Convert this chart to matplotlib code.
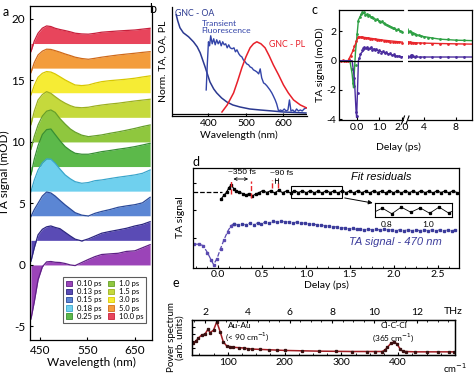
import numpy as np
import matplotlib
matplotlib.use("Agg")
import matplotlib.pyplot as plt
from matplotlib.patches import Patch, Rectangle
from matplotlib.lines import Line2D

plt.rcParams['font.family'] = ['Lato', 'DejaVu Sans']
plt.rcParams['axes.unicode_minus'] = False
plt.rcParams['axes.linewidth'] = 0.9
plt.rcParams['xtick.direction'] = 'in'
plt.rcParams['ytick.direction'] = 'in'
plt.rcParams['xtick.major.size'] = 2.5
plt.rcParams['ytick.major.size'] = 2.5
plt.rcParams['xtick.minor.size'] = 1.5
plt.rcParams['ytick.minor.size'] = 1.5

# ---------------- panel a : TA spectra ----------------
wl = [431, 438, 446, 455, 464, 473, 482, 492, 503, 514, 524, 538, 552, 566, 580, 597, 615, 632, 650, 666, 682]
delays = ["0.10 ps", "0.13 ps", "0.15 ps", "0.18 ps", "0.25 ps",
          "1.0 ps", "1.5 ps", "3.0 ps", "5.0 ps", "10.0 ps"]
offsets = [0, 2, 4, 6, 8, 10, 12, 14, 16, 18]
spectra = [
    [-4.4, -3.0, -1.2, -0.15, 0.25, 0.28, 0.22, 0.2, 0.12, 0.0, -0.05, 0.2, 0.45, 0.68, 0.85, 0.9, 0.95, 1.1, 1.15, 1.4, 1.65],
    [-1.7, -0.6, 0.45, 0.9, 1.1, 1.17, 1.05, 0.95, 0.65, 0.35, 0.1, -0.05, 0.12, 0.35, 0.58, 0.72, 0.85, 0.98, 1.17, 1.3, 1.52],
    [-0.07, 0.5, 1.02, 1.6, 1.93, 1.85, 1.6, 1.25, 0.88, 0.55, 0.25, 0.05, -0.02, 0.2, 0.35, 0.5, 0.69, 0.8, 0.9, 1.05, 1.5],
    [-0.04, 0.9, 1.72, 2.3, 2.62, 2.6, 2.27, 1.8, 1.32, 1.0, 0.77, 0.64, 0.7, 0.85, 0.91, 1.02, 1.13, 1.22, 1.32, 1.45, 1.72],
    [-0.68, 0.6, 1.7, 2.6, 3.0, 3.05, 2.6, 2.1, 1.62, 1.3, 1.08, 1.0, 1.0, 1.1, 1.21, 1.3, 1.41, 1.5, 1.62, 1.75, 1.89],
    [-0.6, 0.45, 1.38, 2.1, 2.5, 2.6, 2.4, 1.9, 1.45, 1.05, 0.8, 0.55, 0.43, 0.5, 0.57, 0.7, 0.82, 0.95, 1.1, 1.25, 1.38],
    [-0.6, 0.5, 1.41, 1.85, 2.09, 1.95, 1.68, 1.4, 1.15, 0.95, 0.82, 0.78, 0.82, 0.92, 1.0, 1.08, 1.15, 1.24, 1.33, 1.4, 1.47],
    [-0.18, 0.6, 1.26, 1.58, 1.72, 1.68, 1.53, 1.3, 1.04, 0.82, 0.63, 0.58, 0.63, 0.78, 0.9, 0.98, 1.04, 1.1, 1.18, 1.28, 1.37],
    [-0.37, 0.45, 1.07, 1.38, 1.54, 1.52, 1.42, 1.3, 1.15, 1.02, 0.89, 0.78, 0.72, 0.8, 0.89, 0.98, 1.07, 1.14, 1.21, 1.28, 1.34],
    [-0.66, 0.2, 0.84, 1.25, 1.43, 1.38, 1.24, 1.14, 1.05, 0.95, 0.84, 0.78, 0.76, 0.83, 0.92, 0.97, 1.02, 1.06, 1.1, 1.17, 1.24],
]
fill_cols = ["#9b44b8", "#5a4bb5", "#5b86d4", "#6fd0ee", "#5cb94a",
             "#8fc73e", "#c5d93c", "#f6ec34", "#f39c3c", "#e8455c"]
edge_cols = ["#5e1f85", "#2c2680", "#2a4a9a", "#3aa6cc", "#378f34",
             "#66a02a", "#9cb020", "#d8c800", "#d06a1a", "#c8203c"]

# ---------------- panel b : OA / PL / transient fluorescence ----------------
oa_wl = [314, 318, 324, 333, 347, 360, 370, 378, 391, 404, 414, 422, 435, 449, 465, 484, 510, 538, 570, 600, 630, 660]
oa_val = [0.99, 0.93, 0.86, 0.81, 0.77, 0.72, 0.67, 0.61, 0.47, 0.32, 0.25, 0.21, 0.16, 0.12, 0.09, 0.07, 0.05, 0.04, 0.03, 0.02, 0.015, 0.01]
tf_wl = [394, 397, 400, 403, 406, 410, 414, 418, 422, 426, 430, 434, 438, 442, 446, 450, 454, 458, 463, 468,
         472, 476, 481, 485, 489, 493, 498, 502, 507, 511, 516, 520, 525, 529, 534, 538, 542, 547, 551, 556,
         560, 564, 569, 573, 578, 582, 587, 592, 597, 602, 607, 612, 616, 620, 625, 630, 635, 640, 645, 650,
         655, 660]
tf_val = [0.24, 0.5, 0.72, 0.68, 0.78, 0.7, 0.75, 0.69, 0.74, 0.7, 0.73, 0.68, 0.72, 0.69, 0.7, 0.66, 0.69, 0.66, 0.65, 0.66,
          0.62, 0.64, 0.6, 0.58, 0.57, 0.54, 0.52, 0.5, 0.49, 0.47, 0.46, 0.44, 0.43, 0.42, 0.4, 0.45, 0.36, 0.31, 0.3, 0.28,
          0.26, 0.24, 0.21, 0.18, 0.14, 0.1, 0.03, 0.04, 0.03, 0.05, 0.03, 0.04, 0.14, 0.03, 0.04, 0.02, 0.05, 0.03, 0.04, 0.03,
          0.05, 0.06]
pl_wl = [436, 450, 467, 478, 489, 500, 511, 520, 529, 540, 551, 562, 573, 587, 600, 613, 627, 645, 662]
pl_val = [0.02, 0.09, 0.21, 0.33, 0.46, 0.57, 0.66, 0.7, 0.72, 0.7, 0.66, 0.58, 0.49, 0.39, 0.29, 0.21, 0.14, 0.09, 0.06]

# ---------------- panel c : kinetics ----------------
g_fit_t = [-0.77, -0.3, -0.2, -0.14, -0.05, 0.08, 0.2, 0.31, 0.5, 0.75, 1.0, 1.2, 1.65, 2.0, 2.5, 3.0, 3.9, 5.0, 6.0, 8.0, 10.0]
g_fit_y = [0, 0, -0.9, -1.85, 0.6, 2.78, 3.15, 3.23, 3.1, 2.9, 2.72, 2.56, 2.2, 2.0, 1.88, 1.78, 1.65, 1.55, 1.47, 1.4, 1.37]
r_fit_t = [-0.77, -0.38, -0.2, 0.0, 0.08, 0.3, 0.75, 1.2, 2.0, 3.0, 4.0, 6.0, 8.0, 10.0]
r_fit_y = [0, 0, 0.55, 1.35, 1.62, 1.6, 1.5, 1.4, 1.27, 1.22, 1.2, 1.17, 1.15, 1.13]
p_fit_t = [-0.77, -0.2, -0.1, -0.03, 0.0, 0.04, 0.08, 0.2, 0.42, 0.75, 1.2, 1.65, 2.0, 3.0, 4.0, 6.0, 10.0]
p_fit_y = [0, 0, -1.2, -3.3, -3.88, -2.0, 0.0, 0.52, 0.86, 0.8, 0.56, 0.35, 0.27, 0.25, 0.25, 0.25, 0.25]

g_pts_t = [-0.22, -0.16, -0.1, -0.04, 0.02, 0.08, 0.14, 0.2, 0.26, 0.32, 0.38, 0.44, 0.5, 0.56, 0.62, 0.68, 0.75, 0.82,
           0.9, 0.98, 1.05, 1.12, 1.2, 1.28, 1.36, 1.44, 1.52, 1.6, 1.68, 1.76, 1.84, 1.92, 2.0,
           2.2, 2.35, 2.5, 2.65, 2.8, 3.0, 3.3, 3.6, 4.0, 4.5, 5.0, 6.0, 7.0, 8.0, 9.0]
g_pts_y = [-0.6, -1.5, -1.7, -0.3, 1.8, 2.7, 3.0, 3.2, 3.35, 3.3, 3.1, 3.2, 3.05, 3.15, 2.95, 3.0, 2.9, 2.8,
           2.85, 2.7, 2.65, 2.7, 2.55, 2.5, 2.45, 2.4, 2.3, 2.25, 2.2, 2.1, 2.15, 2.0, 1.95,
           2.0, 1.95, 1.85, 1.9, 1.8, 1.75, 1.72, 1.68, 1.62, 1.58, 1.55, 1.5, 1.45, 1.42, 1.4]
r_pts_t = [-0.7, -0.62, -0.55, -0.47, -0.4, -0.32, -0.25, -0.18, -0.1, -0.03, 0.04, 0.1, 0.18, 0.26, 0.34, 0.42, 0.5,
           0.6, 0.7, 0.8, 0.9, 1.0, 1.1, 1.2, 1.3, 1.4, 1.5, 1.6, 1.7, 1.8, 1.9, 2.0,
           2.2, 2.4, 2.6, 2.8, 3.0, 3.5, 4.0, 5.0, 6.0, 7.0, 8.0, 9.0]
r_pts_y = [0, 0.02, -0.02, 0, 0.01, 0.1, 0.35, 0.7, 1.0, 1.35, 1.6, 1.65, 1.62, 1.6, 1.58, 1.55, 1.56,
           1.5, 1.48, 1.45, 1.42, 1.4, 1.38, 1.36, 1.32, 1.32, 1.3, 1.28, 1.27, 1.25, 1.26, 1.24,
           1.25, 1.23, 1.22, 1.22, 1.2, 1.19, 1.18, 1.16, 1.15, 1.14, 1.13, 1.13]
p_pts_t = [-0.1, -0.04, 0.0, 0.04, 0.1, 0.16, 0.22, 0.28, 0.34, 0.4, 0.46, 0.52, 0.58, 0.64, 0.7, 0.76, 0.82, 0.88,
           0.94, 1.0, 1.08, 1.16, 1.24, 1.32, 1.4, 1.48, 1.56, 1.64, 1.72, 1.8, 1.88, 1.96,
           2.2, 2.3, 2.4, 2.5, 2.6, 2.8, 3.0, 3.5, 4.0, 5.0, 6.0, 7.0, 8.0, 9.0]
p_pts_y = [-1.2, -3.5, -3.8, -2.2, 0.2, 0.45, 0.7, 0.85, 0.92, 0.88, 0.95, 0.8, 0.85, 0.9, 0.75, 0.8, 0.7, 0.78,
           0.62, 0.72, 0.55, 0.65, 0.5, 0.58, 0.45, 0.5, 0.38, 0.45, 0.35, 0.3, 0.32, 0.28,
           0.32, 0.4, 0.28, 0.38, 0.3, 0.27, 0.3, 0.26, 0.25, 0.25, 0.24, 0.25, 0.25, 0.24]

# ---------------- panel d : residuals and 470 nm trace ----------------
res_t = [0.04, 0.07, 0.10, 0.125, 0.15, 0.18, 0.21, 0.24, 0.28, 0.32, 0.355, 0.39, 0.43, 0.47,
         0.51, 0.555, 0.60, 0.645, 0.69, 0.735, 0.78, 0.825, 0.87, 0.915, 0.96, 1.005, 1.05, 1.095,
         1.14, 1.185, 1.23, 1.275, 1.32, 1.365, 1.41, 1.455, 1.50, 1.545, 1.59, 1.635, 1.68, 1.725,
         1.77, 1.815, 1.86, 1.905, 1.95, 1.995, 2.04, 2.085, 2.13, 2.175, 2.22, 2.265, 2.31, 2.355,
         2.40, 2.445, 2.49, 2.535, 2.58, 2.625, 2.67, 2.715]
res_y = [6.9, 7.25, 7.55, 8.0, 8.25, 7.9, 7.65, 7.55, 7.4, 7.25, 7.4, 7.15, 7.35, 7.5,
         7.7, 7.5, 7.68, 7.45, 7.72, 7.48, 7.66, 7.44, 7.7, 7.5, 7.67, 7.46, 7.7, 7.47,
         7.64, 7.45, 7.69, 7.5, 7.66, 7.44, 7.68, 7.48, 7.65, 7.46, 7.7, 7.47, 7.66, 7.45,
         7.68, 7.5, 7.64, 7.46, 7.69, 7.47, 7.66, 7.45, 7.67, 7.48, 7.65, 7.46, 7.7, 7.47,
         7.66, 7.45, 7.68, 7.49, 7.65, 7.46, 7.67, 7.5]
ta_pre_t = [-0.27, -0.22, -0.17, -0.12, -0.08, -0.05, -0.01, 0.03, 0.07, 0.11, 0.15, 0.18]
ta_pre_y = [2.33, 2.33, 2.2, 1.5, 0.8, 0.3, 0.9, 1.9, 2.8, 3.6, 4.2, 4.35]
ta_t = [0.18, 0.225, 0.27, 0.315, 0.36, 0.405, 0.45, 0.495, 0.54, 0.585, 0.63, 0.675, 0.72, 0.765,
        0.81, 0.855, 0.9, 0.945, 0.99, 1.035, 1.08, 1.125, 1.17, 1.215, 1.26, 1.305, 1.35, 1.395,
        1.44, 1.485, 1.53, 1.575, 1.62, 1.665, 1.71, 1.755, 1.8, 1.845, 1.89, 1.935, 1.98, 2.025,
        2.07, 2.115, 2.16, 2.205, 2.25, 2.295, 2.34, 2.385, 2.43, 2.475, 2.52, 2.565, 2.61, 2.655, 2.7]
ta_y = [4.35, 4.25, 4.38, 4.28, 4.42, 4.3, 4.48, 4.38, 4.55, 4.45, 4.62, 4.52, 4.66, 4.55,
        4.6, 4.48, 4.55, 4.42, 4.48, 4.35, 4.4, 4.26, 4.3, 4.15, 4.18, 4.05, 4.08, 3.95,
        3.98, 3.87, 3.92, 3.82, 3.88, 3.78, 3.85, 3.75, 3.83, 3.73, 3.82, 3.72, 3.8, 3.7,
        3.8, 3.7, 3.79, 3.69, 3.78, 3.69, 3.78, 3.68, 3.77, 3.68, 3.77, 3.67, 3.76, 3.68, 3.75]

# ---------------- panel e : power spectrum ----------------
wn = [39, 44, 48, 54, 60, 65, 69, 75, 80.6, 86.5, 92, 98, 104, 110, 119, 128, 135, 142, 157, 172, 186,
      201, 230, 260, 290, 319, 345, 360, 372, 377, 381, 387, 393, 398, 404, 408, 413, 430, 450, 470, 490, 498]
power = [0.33, 0.4, 0.48, 0.57, 0.6, 0.73, 0.64, 0.71, 0.95, 0.67, 0.38, 0.26, 0.24, 0.22, 0.21, 0.2, 0.18,
         0.17, 0.16, 0.15, 0.14, 0.13, 0.12, 0.11, 0.105, 0.1, 0.1, 0.1, 0.1, 0.15, 0.22, 0.33, 0.38, 0.31,
         0.16, 0.11, 0.1, 0.09, 0.09, 0.09, 0.09, 0.09]

W, H = 474, 374


def box(l, t, r, b):
    """pixel box -> figure fraction rect"""
    return [l / W, 1 - b / H, (r - l) / W, (b - t) / H]


fig = plt.figure(figsize=(4.74, 3.74), dpi=100)

# ======================= a =======================
ax = fig.add_axes(box(30, 6, 152, 340))
for i in reversed(range(len(delays))):
    base = offsets[i]
    y = base + np.array(spectra[i])
    ax.fill_between(wl, base, y, color=fill_cols[i], lw=0)
    ax.plot(wl, y, color=edge_cols[i], lw=0.9)
ax.set_xlim(429, 686)
ax.set_ylim(-6.1, 21.05)
ax.set_xticks([450, 550, 650])
ax.set_yticks([-5, 0, 5, 10, 15, 20])
ax.tick_params(labelsize=8.5)
ax.set_xlabel("Wavelength (nm)", fontsize=8.5, labelpad=1)
ax.set_ylabel("TA signal (mOD)", fontsize=8.5, labelpad=1)
handles = [Patch(facecolor=fill_cols[i], edgecolor=edge_cols[i], lw=0.6, label=delays[i])
           for i in range(len(delays))]
leg = ax.legend(handles=handles, ncol=2, loc="lower right", bbox_to_anchor=(0.985, 0.04),
                fontsize=5.5, frameon=True, fancybox=False, handlelength=0.8, handleheight=0.7,
                handletextpad=0.6, columnspacing=0.9, labelspacing=0.15, borderpad=0.4)
leg.get_frame().set_edgecolor("#333333")
leg.get_frame().set_linewidth(0.8)

# ======================= b =======================
bx = fig.add_axes(box(171.7, 6.7, 306.7, 116))
bx.plot(oa_wl, oa_val, color="#2b3990", lw=1.1)
bx.plot(tf_wl, tf_val, color="#3344a8", lw=1.0)
bx.plot(pl_wl, pl_val, color="#e8202a", lw=1.1)
bx.axhline(0, color="black", lw=0.9)
bx.set_xlim(302, 662)
bx.set_ylim(-0.02, 1.07)
bx.set_xticks([400, 500, 600])
bx.set_yticks([])
bx.spines["top"].set_visible(False)
bx.spines["right"].set_visible(False)
bx.tick_params(labelsize=7.5, pad=2)
bx.set_xlabel("Wavelength (nm)", fontsize=7.5, labelpad=2)
bx.set_ylabel("Norm. TA, OA, PL", fontsize=7.5, labelpad=3)
bx.text(311, 1.0, "GNC - OA", color="#2b3990", fontsize=6.3, va="center")
bx.text(382, 0.87, "Transient\nFluorescence", color="#3344a8", fontsize=6.1, va="center",
        linespacing=1.0)
bx.text(562, 0.69, "GNC - PL", color="#e8202a", fontsize=6.3, va="center")

# ======================= c =======================
c1 = fig.add_axes(box(339.3, 10, 402.5, 120))
c2 = fig.add_axes(box(408.3, 10, 471.7, 120))
series = [
    (g_fit_t, g_fit_y, g_pts_t, g_pts_y, "#2ea044"),
    (r_fit_t, r_fit_y, r_pts_t, r_pts_y, "#e8262b"),
    (p_fit_t, p_fit_y, p_pts_t, p_pts_y, "#4a2c9e"),
]
for cax in (c1, c2):
    for ft, fy, pt, py, col in series:
        cax.plot(ft, fy, color=col, lw=1.0)
        cax.scatter(pt, py, s=4, color=col, lw=0)
    cax.axhline(0, color="black", lw=0.9)
    cax.set_ylim(-4.05, 3.46)
    cax.tick_params(labelsize=7.5, pad=2)
c1.set_xlim(-0.77, 2.04)
c1.set_xticks([0.0, 1.0, 2.0])
c1.set_xticklabels(["0.0", "1.0", "2.0"])
c1.set_yticks([-4, -2, 0, 2])
c1.spines["right"].set_visible(False)
c1.set_ylabel("TA signal (mOD)", fontsize=7.5, labelpad=1)
c2.set_xlim(2.0, 10.0)
c2.set_xticks([4, 8])
c2.set_yticks([])
c2.spines["left"].set_visible(False)
fig.text(398 / W, 1 - 147 / H, "Delay (ps)", fontsize=7.5, ha="center", va="center")
for x0 in (401.5, 406.0):
    fig.add_artist(Line2D([x0 / W, (x0 + 3) / W], [1 - 124 / H, 1 - 116 / H], color="black", lw=0.8))

# ======================= d =======================
dx = fig.add_axes(box(193.3, 167.5, 459, 267.5))
dx.plot([-0.28, 0.05], [7.56, 7.56], ls="--", color="black", lw=0.9)
dx.plot(res_t, res_y, color="black", lw=0.8, marker="s", ms=1.6)
dx.plot(ta_pre_t, ta_pre_y, ls="--", color="#5a4ab0", lw=0.9, marker="s", ms=1.6)
dx.plot(ta_t, ta_y, color="#3b3b9b", lw=0.7, marker="s", ms=1.6, ls=":")
for xt, y0, y1 in [(0.144, 7.4, 8.66), (0.375, 6.95, 8.66), (0.62, 8.0, 8.73), (0.68, 8.0, 8.73)]:
    dx.plot([xt, xt], [y0, y1], ls="--", color="#e8262b", lw=1.0)
dx.annotate("", xy=(0.375, 8.85), xytext=(0.144, 8.85),
            arrowprops=dict(arrowstyle="<->", lw=0.6, color="black", mutation_scale=5))
dx.annotate("", xy=(0.68, 8.7), xytext=(0.62, 8.7),
            arrowprops=dict(arrowstyle="|-|", lw=0.6, color="black", mutation_scale=2))
dx.text(0.27, 9.45, "~350 fs", fontsize=6, ha="center", va="center",
        family=["Liberation Sans", "DejaVu Sans"])
dx.text(0.72, 9.35, "~90 fs", fontsize=6, ha="center", va="center",
        family=["Liberation Sans", "DejaVu Sans"])
dx.add_patch(Rectangle((0.83, 6.9), 0.58, 1.26, fill=False, ec="black", lw=0.8))
dx.annotate("", xy=(1.79, 6.4), xytext=(1.41, 7.0),
            arrowprops=dict(arrowstyle="-|>", lw=0.7, color="black", mutation_scale=6))
dx.text(1.86, 9.0, "Fit residuals", fontsize=8, style="italic", ha="center", va="center",
        family=["Liberation Sans", "DejaVu Sans"])
dx.text(2.02, 2.5, "TA signal - 470 nm", fontsize=8, style="italic", ha="center", va="center",
        color="#3b3b9b", family=["Liberation Sans", "DejaVu Sans"])
dx.set_xlim(-0.28, 2.74)
dx.set_ylim(0, 10)
dx.set_xticks([0.0, 0.5, 1.0, 1.5, 2.0, 2.5])
dx.set_xticklabels(["0.0", "0.5", "1.0", "1.5", "2.0", "2.5"])
dx.set_xticks(np.arange(-0.25, 2.75, 0.125), minor=True)
dx.set_yticks([3.0, 5.8, 8.5])
dx.set_yticklabels([])
dx.tick_params(labelsize=7.5, pad=2)
dx.set_xlabel("Delay (ps)", fontsize=7.5, labelpad=1)
dx.set_ylabel("TA signal", fontsize=7.5, labelpad=4)

ix = fig.add_axes(box(375, 203.3, 451.7, 217.3))
ix.plot(res_t, res_y, color="black", lw=0.6, marker="s", ms=1.4)
ix.set_xlim(0.745, 1.11)
ix.set_ylim(7.3, 7.85)
ix.set_xticks([0.8, 1.0])
ix.set_xticklabels(["0.8", "1.0"])
ix.set_yticks([])
ix.tick_params(labelsize=6, length=0, pad=2.5)
for s in ix.spines.values():
    s.set_linewidth(0.8)

# ======================= e =======================
ex = fig.add_axes(box(191.7, 320, 455, 355))
ex.plot(wn, power, color="#a01c22", lw=1.1, marker="s", ms=1.4, mfc="#3a1010", mec="#3a1010")
ex.set_xlim(36.5, 500)
ex.set_ylim(0, 1.0)
ex.set_xticks([100, 200, 300, 400])
ex.set_xticks(np.arange(50, 500, 25), minor=True)
ex.set_yticks([0.2, 0.4, 0.6, 0.8])
ex.set_yticklabels([])
ex.tick_params(labelsize=7.5, pad=2)
ex.set_ylabel("Power spectrum\n(arb. units)", fontsize=7, labelpad=3, linespacing=1.0)
ex.text(122, 0.84, "Au-Au", fontsize=6, ha="center", va="center")
ex.text(134, 0.52, "(< 90 cm$^{-1}$)", fontsize=6, ha="center", va="center")
ex.text(392, 0.84, "Cl-C-Cl", fontsize=6, ha="center", va="center")
ex.text(392, 0.5, "(365 cm$^{-1}$)", fontsize=6, ha="center", va="center")
et = ex.twiny()
et.set_xlim(1.37, 13.81)
et.set_xticks([2, 4, 6, 8, 10, 12])
et.set_xticks(np.arange(1.5, 14, 0.5), minor=True)
et.tick_params(labelsize=7.5, pad=2)
fig.text(453 / W, 1 - 311 / H, "THz", fontsize=7.5, ha="center", va="center")
fig.text(455 / W, 1 - 368 / H, "cm$^{-1}$", fontsize=7, ha="center", va="center")

# panel letters
for lab, px, py in [("a", 6, 12), ("b", 153, 9), ("c", 314, 10), ("d", 196, 162), ("e", 176, 283)]:
    fig.text(px / W, 1 - py / H, lab, fontsize=9, ha="center", va="center")

fig.savefig("out.png", dpi=100)
